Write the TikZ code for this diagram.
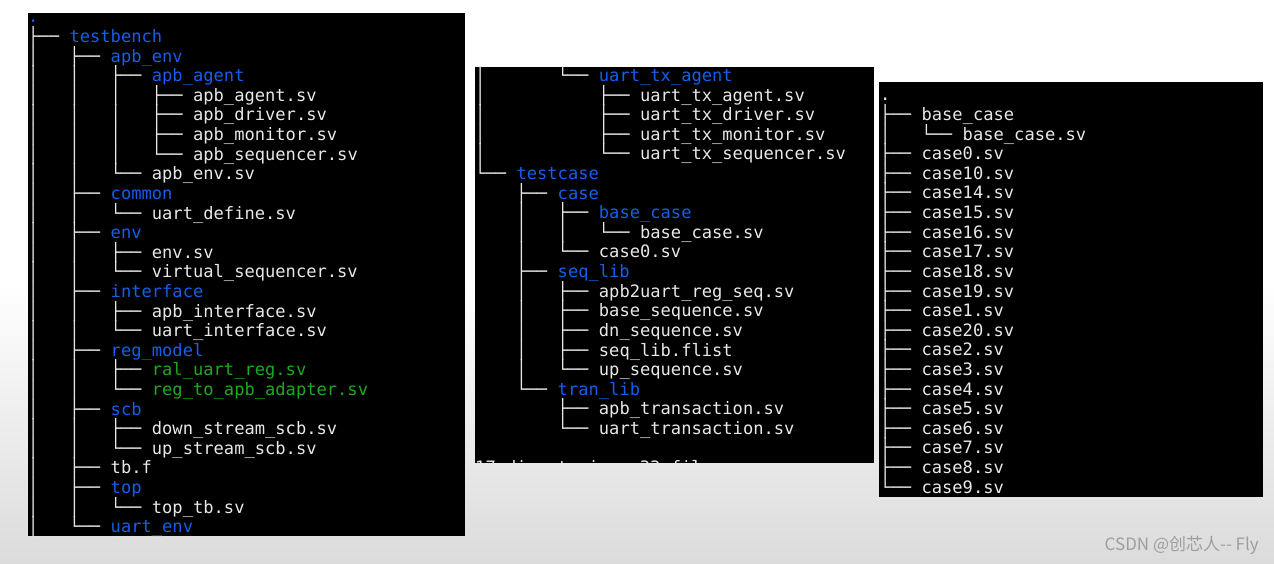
\documentclass[tikz,border=0pt]{standalone}
\usepackage{fontspec}
\newfontfamily\mono{DejaVu Sans Mono}[BoldFont={DejaVu Sans Mono Bold}]
\newfontfamily\cjk{Noto Sans CJK SC}
\definecolor{tblue}{RGB}{20,95,235}
\definecolor{tgreen}{RGB}{30,170,30}
\definecolor{twhite}{RGB}{232,232,232}
\newcommand{\Bq}[1]{\textcolor{tblue}{#1}}
\newcommand{\Gq}[1]{\textcolor{tgreen}{#1}}
\newcommand{\Vq}{\textbf{│}~~~}
\newcommand{\Eq}{~~~~}
\newcommand{\Tq}{\textbf{├──}~}
\newcommand{\Lq}{\textbf{└──}~}
\tikzset{row/.style={anchor=base west,inner sep=0pt,text=twhite,font=\mono\fontsize{17.1}{19.6}\selectfont},
panel/.style={fill=black}}
\newcommand{\rows}[3]{% x, first y, list
  \foreach \t [count=\i from 0] in {#3} {\node[row] at (#1,#2+\i*19.6+6) {\t};}}
\begin{document}
\begin{tikzpicture}[x=1pt,y=-1pt]
\shade[top color=white,bottom color=white!86!black,middle color=white] (0,0) rectangle (1274,564);
\useasboundingbox (0,0) rectangle (1274,564);
\begin{scope}
\clip (28,13) rectangle (465,536);
\fill[panel] (28,13) rectangle (465,536);
\rows{28}{17}{\Bq{.},
\Tq\Bq{testbench},
\Vq\Tq\Bq{apb\_env},
\Vq\Vq\Tq\Bq{apb\_agent},
\Vq\Vq\Vq\Tq apb\_agent.sv,
\Vq\Vq\Vq\Tq apb\_driver.sv,
\Vq\Vq\Vq\Tq apb\_monitor.sv,
\Vq\Vq\Vq\Lq apb\_sequencer.sv,
\Vq\Vq\Lq apb\_env.sv,
\Vq\Tq\Bq{common},
\Vq\Vq\Lq uart\_define.sv,
\Vq\Tq\Bq{env},
\Vq\Vq\Tq env.sv,
\Vq\Vq\Lq virtual\_sequencer.sv,
\Vq\Tq\Bq{interface},
\Vq\Vq\Tq apb\_interface.sv,
\Vq\Vq\Lq uart\_interface.sv,
\Vq\Tq\Bq{reg\_model},
\Vq\Vq\Tq\Gq{ral\_uart\_reg.sv},
\Vq\Vq\Lq\Gq{reg\_to\_apb\_adapter.sv},
\Vq\Tq\Bq{scb},
\Vq\Vq\Tq down\_stream\_scb.sv,
\Vq\Vq\Lq up\_stream\_scb.sv,
\Vq\Tq tb.f,
\Vq\Tq\Bq{top},
\Vq\Vq\Lq top\_tb.sv,
\Vq\Lq\Bq{uart\_env},
\Vq\Eq\Tq x}
\end{scope}
\begin{scope}
\clip (475,67) rectangle (874,463);
\fill[panel] (475,67) rectangle (874,463);
\rows{475}{56}{\Vq\Eq\Tq x,
\Vq\Eq\Lq\Bq{uart\_tx\_agent},
\Vq\Eq\Eq\Tq uart\_tx\_agent.sv,
\Vq\Eq\Eq\Tq uart\_tx\_driver.sv,
\Vq\Eq\Eq\Tq uart\_tx\_monitor.sv,
\Vq\Eq\Eq\Lq uart\_tx\_sequencer.sv,
\Lq\Bq{testcase},
\Eq\Tq\Bq{case},
\Eq\Vq\Tq\Bq{base\_case},
\Eq\Vq\Vq\Lq base\_case.sv,
\Eq\Vq\Lq case0.sv,
\Eq\Tq\Bq{seq\_lib},
\Eq\Vq\Tq apb2uart\_reg\_seq.sv,
\Eq\Vq\Tq base\_sequence.sv,
\Eq\Vq\Tq dn\_sequence.sv,
\Eq\Vq\Tq seq\_lib.flist,
\Eq\Vq\Lq up\_sequence.sv,
\Eq\Lq\Bq{tran\_lib},
\Eq\Eq\Tq apb\_transaction.sv,
\Eq\Eq\Lq uart\_transaction.sv,
{},
{17 directories, 33 files}}
\end{scope}
\begin{scope}
\clip (879,82) rectangle (1263,497);
\fill[panel] (879,82) rectangle (1263,497);
\rows{880}{95}{.,
\Tq base\_case,
\Vq\Lq base\_case.sv,
\Tq case0.sv,\Tq case10.sv,\Tq case14.sv,\Tq case15.sv,\Tq case16.sv,\Tq case17.sv,
\Tq case18.sv,\Tq case19.sv,\Tq case1.sv,\Tq case20.sv,\Tq case2.sv,\Tq case3.sv,
\Tq case4.sv,\Tq case5.sv,\Tq case6.sv,\Tq case7.sv,\Tq case8.sv,\Lq case9.sv}
\end{scope}
\node[anchor=east,inner sep=0pt,text=white!62!black,font=\cjk\fontsize{17}{19}\selectfont] (wm) at (1259,545) {CSDN @创芯人-- Fly};
\end{tikzpicture}
\end{document}
